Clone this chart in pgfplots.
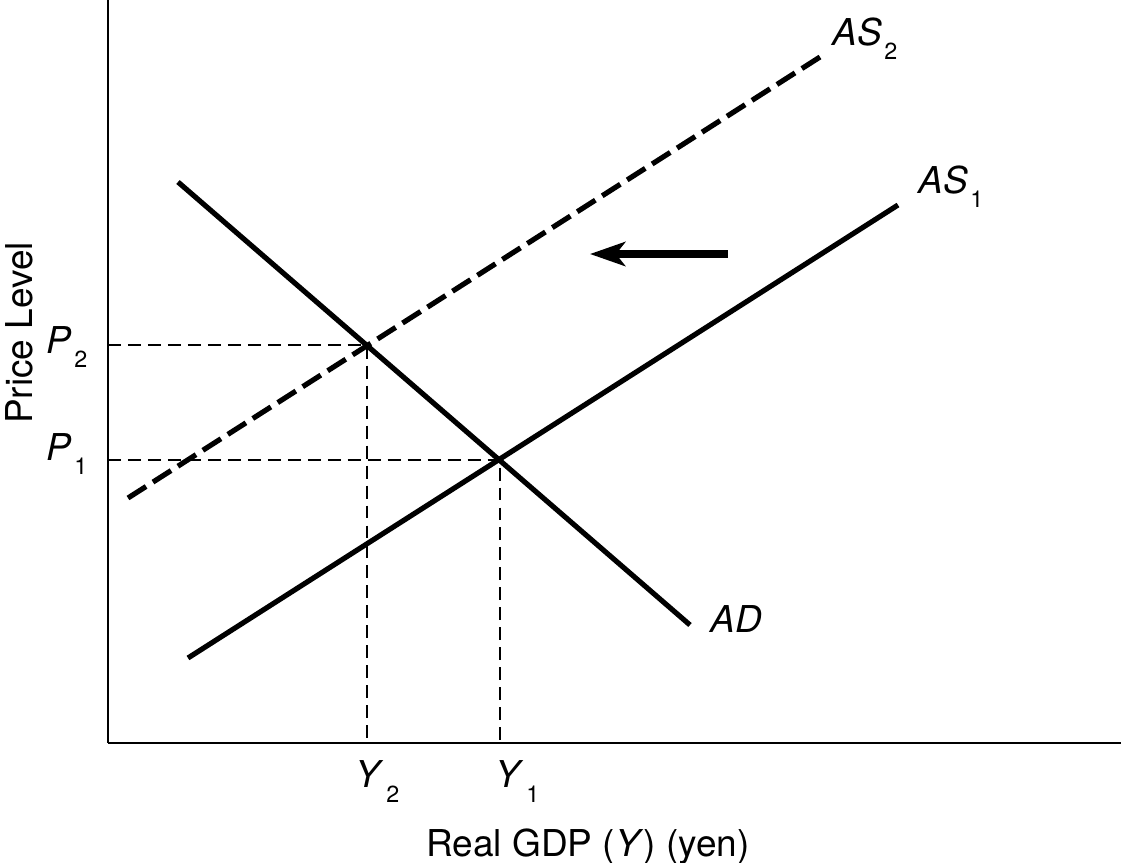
\documentclass[border=0pt]{standalone}
\usepackage{fontspec}
\setmainfont{TeX Gyre Heros}
\usepackage{pgfplots}
\pgfplotsset{compat=1.18}
\usetikzlibrary{arrows.meta}
\newcommand{\subs}[1]{\kern0.6pt\raisebox{-3.9pt}{\fontsize{6.3}{7}\selectfont #1}}
\begin{document}
\begin{tikzpicture}
\useasboundingbox (-1.026cm,-1.14cm) rectangle (9.6235cm,7.0585cm);
\begin{axis}[
  at={(0,0)}, anchor=south west,
  scale only axis, width=9.6235cm, height=7.0585cm,
  xmin=0, xmax=1013, ymin=0, ymax=743,
  axis lines=left, axis line style={-, line width=0.7pt},
  xtick=\empty, ytick=\empty, clip=false,
]
% guide lines
\addplot[black, line width=0.5pt, dash pattern=on 3.5pt off 1.9pt] coordinates {(0,398) (259,398) (259,0)};
\addplot[black, line width=0.5pt, dash pattern=on 3.5pt off 1.9pt] coordinates {(0,283) (392,283) (392,0)};
% AD
\addplot[black, line width=1.4pt] coordinates {(70,561) (582,118)};
% AS1
\addplot[black, line width=1.4pt] coordinates {(80,85) (790,538)};
% AS2
\addplot[black, line width=1.4pt, dash pattern=on 5.8pt off 2.2pt] coordinates {(20,245) (712,686)};
% arrow
\addplot[black, line width=2.1pt, -{Stealth[length=9.5pt, width=6.5pt, inset=2.5pt]}] coordinates {(620,489) (482,489)};
% labels
\node[anchor=base west, inner sep=0pt] at (axis cs:724,698) {\textit{AS}\subs{2}};
\node[anchor=base west, inner sep=0pt] at (axis cs:810,550) {\textit{AS}\subs{1}};
\node[anchor=base west, inner sep=0pt] at (axis cs:602,111) {\textit{AD}};
\node[anchor=base east, inner sep=0pt] at (axis cs:-20,390) {\textit{P}\subs{2}};
\node[anchor=base east, inner sep=0pt] at (axis cs:-20,283) {\textit{P}\subs{1}};
\node[anchor=base west, inner sep=0pt] at (axis cs:247,-45) {\textit{Y}\subs{2}};
\node[anchor=base west, inner sep=0pt] at (axis cs:387,-45) {\textit{Y}\subs{1}};
\node[anchor=base, inner sep=0pt] at (axis cs:480,-114) {Real GDP (\textit{Y}) (yen)};
\node[anchor=base, inner sep=0pt, rotate=90] at (axis cs:-75,410) {Price Level};
\end{axis}
\end{tikzpicture}
\end{document}
